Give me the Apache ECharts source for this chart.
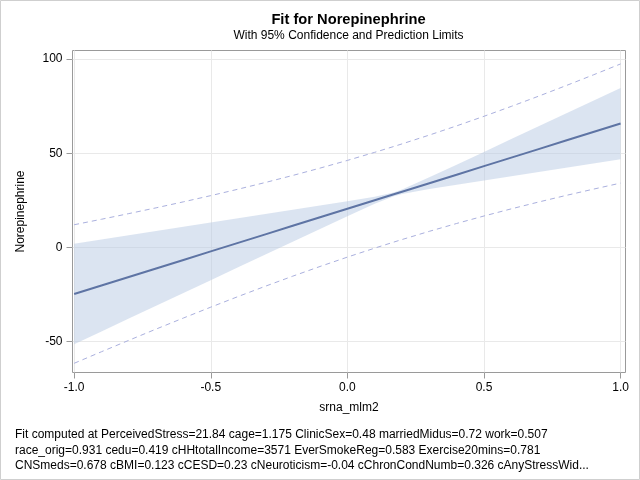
<!DOCTYPE html>
<html><head><meta charset="utf-8">
<script src="https://cdn.jsdelivr.net/npm/echarts@6/dist/echarts.min.js"></script>
<style>html,body{margin:0;padding:0;background:#fff}#c{width:640px;height:480px}</style>
</head><body><div id="c"></div>
<script>
// srna_mlm2 values at which the fit was read
const xValues = [-1.0,-0.9,-0.8,-0.7,-0.6,-0.5,-0.4,-0.3,-0.2,-0.1,0.0,0.1,0.17,0.2,0.3,0.4,0.5,0.6,0.7,0.8,0.9,1.0];
// fitted Norepinephrine
const fitValues = [-24.8,-20.27,-15.74,-11.21,-6.68,-2.15,2.38,6.91,11.44,15.97,20.5,25.03,28.2,29.56,34.09,38.62,43.15,47.68,52.21,56.74,61.27,65.8];
// 95% confidence limits
const clLower = [-51.47,-44.66,-37.86,-31.06,-24.25,-17.44,-10.64,-3.85,2.95,9.74,16.5,23.15,27.2,28.35,30.97,33.29,35.57,37.83,40.10,42.35,44.61,46.86];
const clUpper = [1.87,4.12,6.38,8.64,10.89,13.14,15.40,17.67,19.93,22.20,24.5,26.91,29.2,30.77,37.21,43.95,50.73,57.53,64.32,71.13,77.93,84.74];
// 95% prediction limits
const plLower = [-61.61,-55.47,-49.41,-43.42,-37.55,-31.78,-26.14,-20.65,-15.32,-10.16,-5.19,-0.42,2.8,4.15,8.52,12.69,16.66,20.46,24.09,27.57,30.91,34.14];
const plUpper = [12.01,14.93,17.93,21.00,24.19,27.48,30.90,34.47,38.20,42.10,46.19,50.48,53.6,54.97,59.66,64.55,69.64,74.90,80.33,85.91,91.63,97.46];
// tick labels
const xTicks = [-1.0,-0.5,0.0,0.5,1.0];
const yTicks = [-50,0,50,100];
const footLines = [
  'Fit computed at PerceivedStress=21.84 cage=1.175 ClinicSex=0.48 marriedMidus=0.72 work=0.507',
  'race_orig=0.931 cedu=0.419 cHHtotalIncome=3571 EverSmokeReg=0.583 Exercise20mins=0.781',
  'CNSmeds=0.678 cBMI=0.123 cCESD=0.23 cNeuroticism=-0.04 cChronCondNumb=0.326 cAnyStressWid...'
];

const pair = arr => xValues.map((x, i) => [x, arr[i]]);
const FONT = '"Liberation Sans", Arial, sans-serif';
const chart = echarts.init(document.getElementById('c'), null, {renderer: 'canvas'});
chart.setOption({
  animation: false,
  backgroundColor: '#fff',
  grid: {left: 72.5, right: 14.5, top: 50.5, bottom: 107.5, show: true, borderColor: '#9a9a9a', borderWidth: 1, backgroundColor: 'transparent'},
  xAxis: {
    type: 'value', min: -1.006, max: 1.018, splitNumber: 4,
    name: 'srna_mlm2', nameLocation: 'middle', nameGap: 29,
    nameTextStyle: {fontFamily: FONT, fontSize: 12, color: '#000'},
    axisLine: {show: false, onZero: false},
    axisTick: {show: true, length: 6, lineStyle: {color: '#9a9a9a'}, customValues: xTicks},
    axisLabel: {customValues: xTicks, margin: 9, fontFamily: FONT, fontSize: 12, color: '#000', formatter: v => v.toFixed(1)},
    splitLine: {show: true, lineStyle: {color: '#e9e9e9'}}
  },
  yAxis: {
    type: 'value', min: -66.5, max: 104.6, splitNumber: 3,
    name: 'Norepinephrine', nameLocation: 'middle', nameGap: 46,
    nameTextStyle: {fontFamily: FONT, fontSize: 12, color: '#000'},
    axisLine: {show: false, onZero: false},
    axisTick: {show: true, length: 6, lineStyle: {color: '#9a9a9a'}, customValues: yTicks},
    axisLabel: {customValues: yTicks, margin: 10, fontFamily: FONT, fontSize: 12, color: '#000'},
    splitLine: {show: true, lineStyle: {color: '#e9e9e9'}}
  },
  graphic: [
    {type: 'rect', shape: {x: 0.5, y: 0.5, width: 639, height: 479}, style: {fill: 'none', stroke: '#cfcfcf', lineWidth: 1}, silent: true},
    {type: 'text', x: 348.5, y: 20, style: {text: 'Fit for Norepinephrine', font: 'bold 14.7px ' + FONT, fill: '#000', textAlign: 'center', textVerticalAlign: 'middle'}},
    {type: 'text', x: 348.5, y: 35.5, style: {text: 'With 95% Confidence and Prediction Limits', font: '12px ' + FONT, fill: '#000', textAlign: 'center', textVerticalAlign: 'middle'}},
    {type: 'text', x: 15, y: 427, style: {text: footLines.join('\n'), font: '12px ' + FONT, lineHeight: 15.5, fill: '#000', textAlign: 'left', textVerticalAlign: 'top'}}
  ],
  series: [
    {
      type: 'custom', data: [[0]], silent: true, z: 1,
      renderItem: (params, api) => {
        if (params.dataIndex !== 0) return null;
        const pts = [];
        xValues.forEach((x, i) => pts.push(api.coord([x, clUpper[i]])));
        for (let i = xValues.length - 1; i >= 0; i--) pts.push(api.coord([xValues[i], clLower[i]]));
        return {type: 'polygon', shape: {points: pts}, style: {fill: 'rgba(183,201,227,0.5)', stroke: null}};
      }
    },
    {type: 'line', data: pair(plUpper), showSymbol: false, symbol: 'none', lineStyle: {color: '#aab0de', width: 1, type: [5, 4]}, silent: true, z: 2},
    {type: 'line', data: pair(plLower), showSymbol: false, symbol: 'none', lineStyle: {color: '#aab0de', width: 1, type: [5, 4]}, silent: true, z: 2},
    {type: 'line', data: pair(fitValues), showSymbol: false, symbol: 'none', lineStyle: {color: '#5e74a4', width: 2}, silent: true, z: 3}
  ]
});
</script></body></html>
